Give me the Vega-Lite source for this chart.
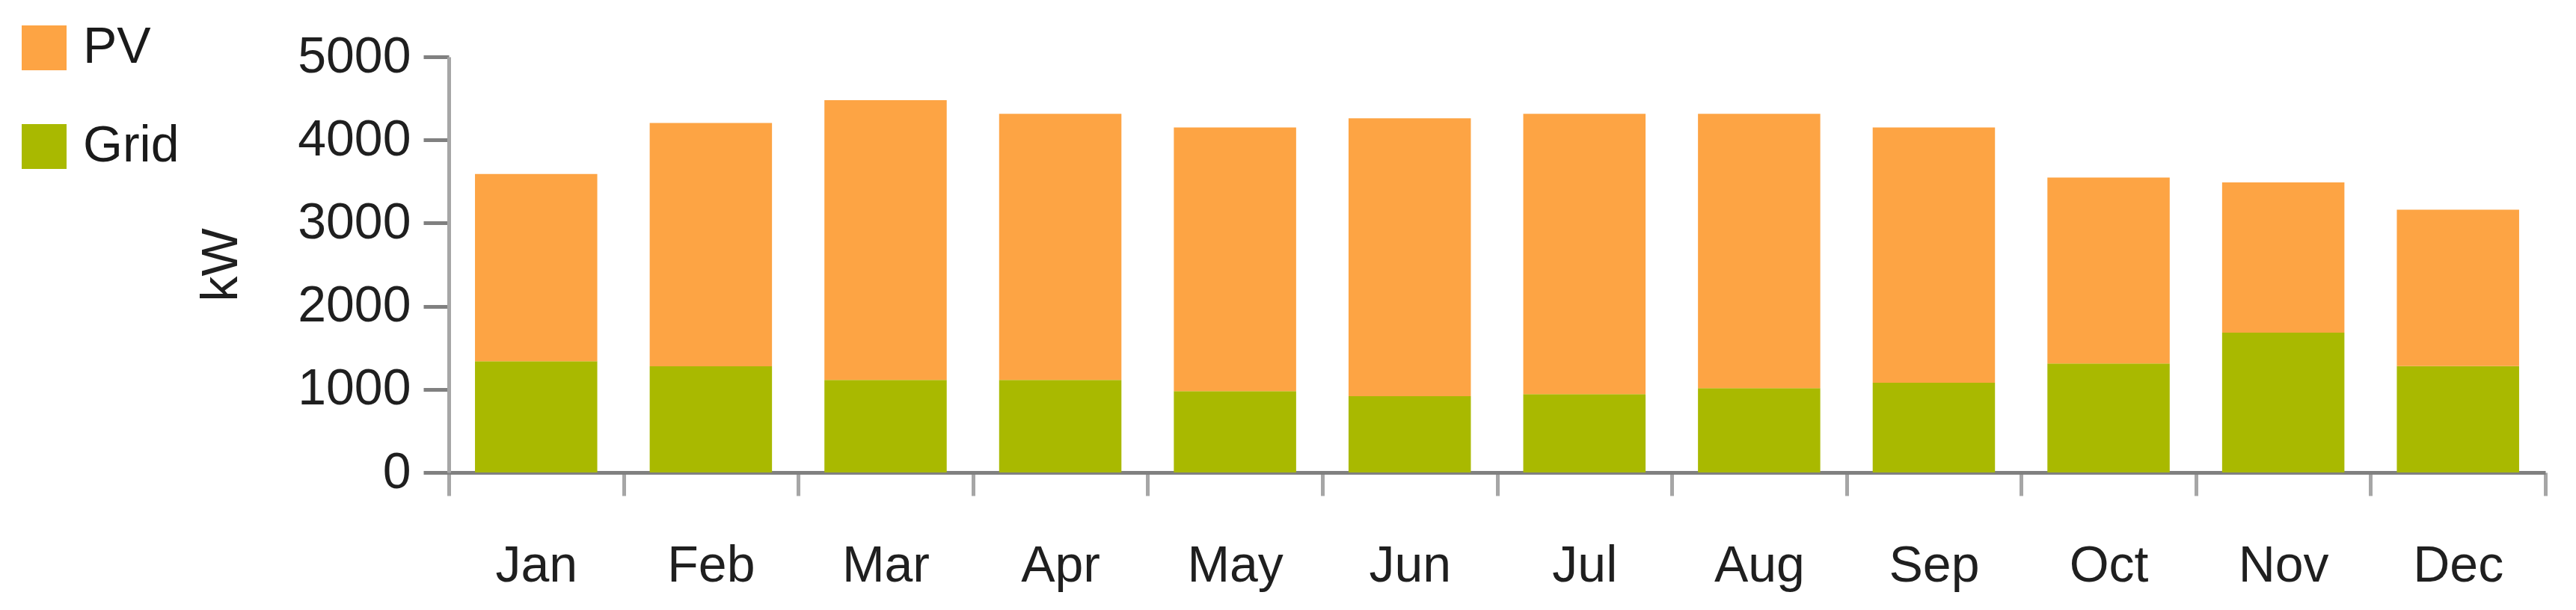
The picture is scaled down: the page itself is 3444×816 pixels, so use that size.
{
  "$schema": "https://vega.github.io/schema/vega-lite/v6.json",
  "autosize": {"type": "none"},
  "padding": {"left": 600, "top": 76, "right": 41, "bottom": 184},
  "width": 2803,
  "height": 556,
  "background": "white",
  "config": {
    "view": {"stroke": null},
    "font": "Liberation Sans",
    "axis": {"labelFont": "Liberation Sans", "titleFont": "Liberation Sans"},
    "legend": {"labelFont": "Liberation Sans"}
  },
  "data": {
    "values": [
      {"month": "Jan", "source": "Grid", "kW": 1337}, {"month": "Jan", "source": "PV", "kW": 2253},
      {"month": "Feb", "source": "Grid", "kW": 1277}, {"month": "Feb", "source": "PV", "kW": 2928},
      {"month": "Mar", "source": "Grid", "kW": 1112}, {"month": "Mar", "source": "PV", "kW": 3366},
      {"month": "Apr", "source": "Grid", "kW": 1112}, {"month": "Apr", "source": "PV", "kW": 3202},
      {"month": "May", "source": "Grid", "kW": 977}, {"month": "May", "source": "PV", "kW": 3173},
      {"month": "Jun", "source": "Grid", "kW": 917}, {"month": "Jun", "source": "PV", "kW": 3343},
      {"month": "Jul", "source": "Grid", "kW": 941}, {"month": "Jul", "source": "PV", "kW": 3373},
      {"month": "Aug", "source": "Grid", "kW": 1015}, {"month": "Aug", "source": "PV", "kW": 3299},
      {"month": "Sep", "source": "Grid", "kW": 1080}, {"month": "Sep", "source": "PV", "kW": 3070},
      {"month": "Oct", "source": "Grid", "kW": 1310}, {"month": "Oct", "source": "PV", "kW": 2238},
      {"month": "Nov", "source": "Grid", "kW": 1682}, {"month": "Nov", "source": "PV", "kW": 1808},
      {"month": "Dec", "source": "Grid", "kW": 1280}, {"month": "Dec", "source": "PV", "kW": 1882}
    ]
  },
  "mark": {"type": "bar", "width": {"band": 0.7}},
  "encoding": {
    "x": {
      "field": "month", "type": "nominal",
      "sort": ["Jan","Feb","Mar","Apr","May","Jun","Jul","Aug","Sep","Oct","Nov","Dec"],
      "scale": {"paddingInner": 0, "paddingOuter": 0},
      "axis": {
        "title": null, "labelAngle": 0, "labelFontSize": 68, "labelColor": "#1f1f1f", "labelLimit": 0,
        "labelPadding": 60, "tickBand": "extent", "tickSize": 31, "tickWidth": 5, "tickColor": "#a6a6a6",
        "domainColor": "#808080", "domainWidth": 5, "grid": false
      }
    },
    "y": {
      "field": "kW", "type": "quantitative", "stack": "zero",
      "scale": {"domain": [0, 5000], "nice": false},
      "axis": {
        "title": "kW", "titleFontSize": 68, "titleFontWeight": "normal", "titleColor": "#1f1f1f", "titlePadding": 70,
        "values": [0, 1000, 2000, 3000, 4000, 5000], "format": "d", "labelLimit": 0,
        "labelFontSize": 68, "labelColor": "#1f1f1f", "labelPadding": 17,
        "tickSize": 34, "tickWidth": 5, "tickColor": "#808080",
        "domainColor": "#a6a6a6", "domainWidth": 5, "grid": false
      }
    },
    "color": {
      "field": "source", "type": "nominal",
      "scale": {"domain": ["PV", "Grid"], "range": ["#FDA444", "#A9B900"]},
      "legend": {
        "title": null, "orient": "none", "legendX": -575, "legendY": -46,
        "symbolType": "square", "symbolSize": 3600, "symbolStrokeWidth": 0,
        "labelFontSize": 68, "labelColor": "#1a1a1a", "labelOffset": 18, "rowPadding": 64, "padding": 0, "labelLimit": 0
      }
    },
    "order": {"field": "source", "sort": "ascending"}
  }
}
